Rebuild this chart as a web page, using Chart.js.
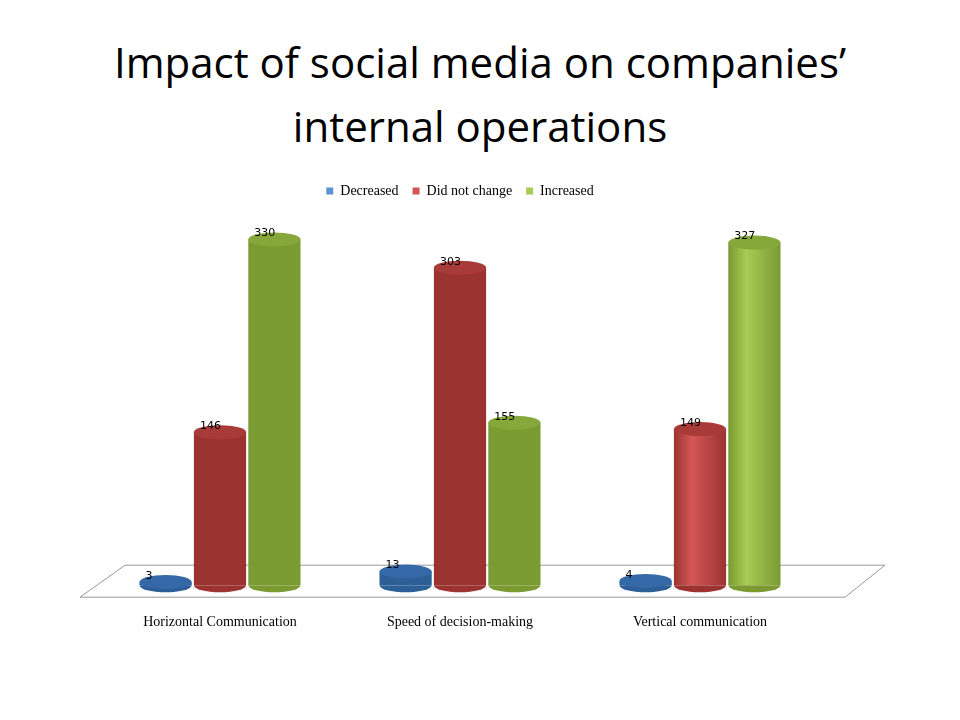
<!DOCTYPE html>
<html>
<head>
<meta charset="utf-8">
<script src="https://cdn.jsdelivr.net/npm/chart.js@4.4.0/dist/chart.umd.min.js"></script>
<style>
  body { margin: 0; background: #fff; }
  #wrap { position: relative; width: 960px; height: 720px; }
  h1 { position: absolute; top: 30px; left: 0; width: 960px; margin: 0; text-align: center;
       font: 42px "Open Sans", "Liberation Sans", sans-serif; line-height: 64px; color: #000; font-weight: normal; }
  #box { position: absolute; left: 0; top: 170px; width: 960px; height: 492px; }
</style>
</head>
<body>
<div id="wrap">
  <h1>Impact of social media on companies’<br>internal operations</h1>
  <div id="box"><canvas id="impactChart"></canvas></div>
</div>
<script>
var categories = ['Horizontal Communication', 'Speed of decision-making', 'Vertical communication'];
var decreased = [3, 13, 4];
var didNotChange = [146, 303, 149];
var increased = [330, 155, 327];

var palette = {
    Decreased: ['#2c5f96', '#5b93d3', '#3468a6'],
    'Did not change': ['#9b3331', '#d35755', '#a83a37'],
    Increased: ['#7a9a32', '#a7cc55', '#86a83a']
};

// shade each bar like a cylinder once the layout is known
var shadePlugin = {
    id: 'shade',
    beforeDatasetsDraw: function (chart) {
        var c = chart.ctx;
        chart.data.datasets.forEach(function (ds, i) {
            var cols = palette[ds.label];
            chart.getDatasetMeta(i).data.forEach(function (bar) {
                var w = bar.width;
                var g = c.createLinearGradient(bar.x - w / 2, 0, bar.x + w / 2, 0);
                g.addColorStop(0, cols[0]);
                g.addColorStop(0.35, cols[1]);
                g.addColorStop(1, cols[0]);
                bar.options.backgroundColor = g;
            });
        });
    }
};

var floorPlugin = {
    id: 'floor',
    beforeDatasetsDraw: function (chart) {
        var a = chart.chartArea, ctx = chart.ctx;
        var y0 = chart.scales.y.getPixelForValue(0);
        ctx.save();
        ctx.strokeStyle = '#999';
        ctx.lineWidth = 1;
        ctx.beginPath();
        ctx.moveTo(a.left + 25, y0 - 20);
        ctx.lineTo(a.right + 65, y0 - 20);
        ctx.lineTo(a.right + 25, y0 + 12);
        ctx.lineTo(a.left - 20, y0 + 12);
        ctx.closePath();
        ctx.stroke();
        ctx.restore();
    }
};

var capsPlugin = {
    id: 'caps',
    afterDatasetsDraw: function (chart) {
        var ctx = chart.ctx;
        chart.data.datasets.forEach(function (ds, i) {
            var cols = palette[ds.label];
            chart.getDatasetMeta(i).data.forEach(function (bar, j) {
                var rx = bar.width / 2, ry = 7;
                ctx.save();
                ctx.fillStyle = cols[0];
                ctx.beginPath();
                ctx.ellipse(bar.x, bar.base, rx, ry, 0, 0, Math.PI);
                ctx.fill();
                ctx.fillStyle = cols[2];
                ctx.beginPath();
                ctx.ellipse(bar.x, bar.y, rx, ry, 0, 0, 2 * Math.PI);
                ctx.fill();
                ctx.fillStyle = '#000';
                ctx.font = '11px "DejaVu Sans", sans-serif';
                ctx.textAlign = 'left';
                ctx.fillText(ds.data[j], bar.x - rx + 6, bar.y - 6);
                ctx.restore();
            });
        });
    }
};

var ctx = document.getElementById('impactChart').getContext('2d');
var impactChart = new Chart(ctx, {
    type: 'bar',
    data: {
        labels: categories,
        datasets: [
            { label: 'Decreased', data: decreased, backgroundColor: palette.Decreased[1] },
            { label: 'Did not change', data: didNotChange, backgroundColor: palette['Did not change'][1] },
            { label: 'Increased', data: increased, backgroundColor: palette.Increased[1] }
        ]
    },
    options: {
        responsive: true,
        maintainAspectRatio: false,
        animation: false,
        layout: { padding: { left: 100, right: 140, top: 0, bottom: 10 } },
        datasets: { bar: { categoryPercentage: 0.68, barPercentage: 0.96 } },
        plugins: {
            legend: {
                labels: {
                    boxWidth: 7, boxHeight: 7, padding: 14,
                    color: '#000',
                    font: { family: '"Liberation Serif", serif', size: 14 },
                    generateLabels: function (chart) {
                        return chart.data.datasets.map(function (ds, i) {
                            return { text: ds.label, fillStyle: palette[ds.label][1], strokeStyle: palette[ds.label][1], lineWidth: 0, datasetIndex: i };
                        });
                    }
                }
            },
            tooltip: { enabled: false }
        },
        scales: {
            x: {
                grid: { display: false },
                border: { display: false },
                ticks: { color: '#000', padding: 21, font: { family: '"Liberation Serif", serif', size: 14 } }
            },
            y: {
                display: false,
                min: 0, max: 360
            }
        }
    },
    plugins: [shadePlugin, floorPlugin, capsPlugin]
});
</script>
</body>
</html>
